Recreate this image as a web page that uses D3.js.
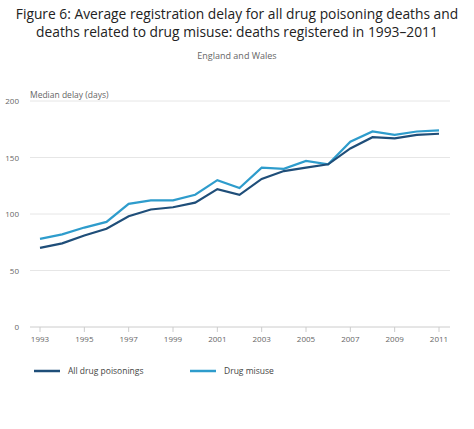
<!DOCTYPE html><html><head><meta charset="utf-8"><script src="https://d3js.org/d3.v7.min.js"></script>
<style>body{margin:0;background:#fff;font-family:"Open Sans",sans-serif}</style></head><body><svg id="c" width="474" height="429"></svg>
<script>
const years=[1993,1994,1995,1996,1997,1998,1999,2000,2001,2002,2003,2004,2005,2006,2007,2008,2009,2010,2011];
const allDrug=[70,74,81,87,98,104,106,110,122,117,131,138,141,144,158,168,167,170,171];
const misuse=[78,82,88,93,109,112,112,117,130,123,141,140,147,144,164,173,170,173,174];
const yTicks=[0,50,100,150,200];
const xTicks=[1993,1995,1997,1999,2001,2003,2005,2007,2009,2011];
const svg=d3.select("#c");
svg.append("text").attr("x",237).attr("y",19).attr("text-anchor","middle").attr("font-size",13.8).attr("fill","#222").text("Figure 6: Average registration delay for all drug poisoning deaths and");
svg.append("text").attr("x",237).attr("y",37).attr("text-anchor","middle").attr("font-size",13.8).attr("fill","#222").text("deaths related to drug misuse: deaths registered in 1993–2011");
svg.append("text").attr("x",237).attr("y",59).attr("text-anchor","middle").attr("font-size",9).attr("fill","#666").text("England and Wales");
const x=d3.scaleLinear().domain([1993,2011]).range([40,439]);
const y=d3.scaleLinear().domain([0,200]).range([327,101]);
const g=svg.append("g");
yTicks.forEach(t=>{g.append("line").attr("x1",30).attr("x2",450).attr("y1",y(t)).attr("y2",y(t)).attr("stroke",t===0?"#ccc":"#e6e6e6");
g.append("text").attr("x",19).attr("y",y(t)+3).attr("text-anchor","end").attr("font-size",8).attr("fill","#666").text(t);});
svg.append("text").attr("x",30).attr("y",98).attr("font-size",8.5).attr("fill","#666").text("Median delay (days)");
xTicks.forEach(t=>{g.append("line").attr("x1",x(t)).attr("x2",x(t)).attr("y1",327).attr("y2",332).attr("stroke","#ccc");
g.append("text").attr("x",x(t)).attr("y",342).attr("text-anchor","middle").attr("font-size",8).attr("fill","#666").text(t);});
const line=d3.line().x((d,i)=>x(years[i])).y(d=>y(d));
svg.append("path").attr("d",line(misuse)).attr("fill","none").attr("stroke","#2e9ccc").attr("stroke-width",2.2);
svg.append("path").attr("d",line(allDrug)).attr("fill","none").attr("stroke","#1f4e79").attr("stroke-width",2.2);
[["All drug poisonings","#1f4e79",34],["Drug misuse","#2e9ccc",190]].forEach(([n,c,lx])=>{
svg.append("line").attr("x1",lx).attr("x2",lx+26).attr("y1",371).attr("y2",371).attr("stroke",c).attr("stroke-width",2.5);
svg.append("text").attr("x",lx+34).attr("y",374).attr("font-size",8.5).attr("fill","#444").text(n);});
</script></body></html>
